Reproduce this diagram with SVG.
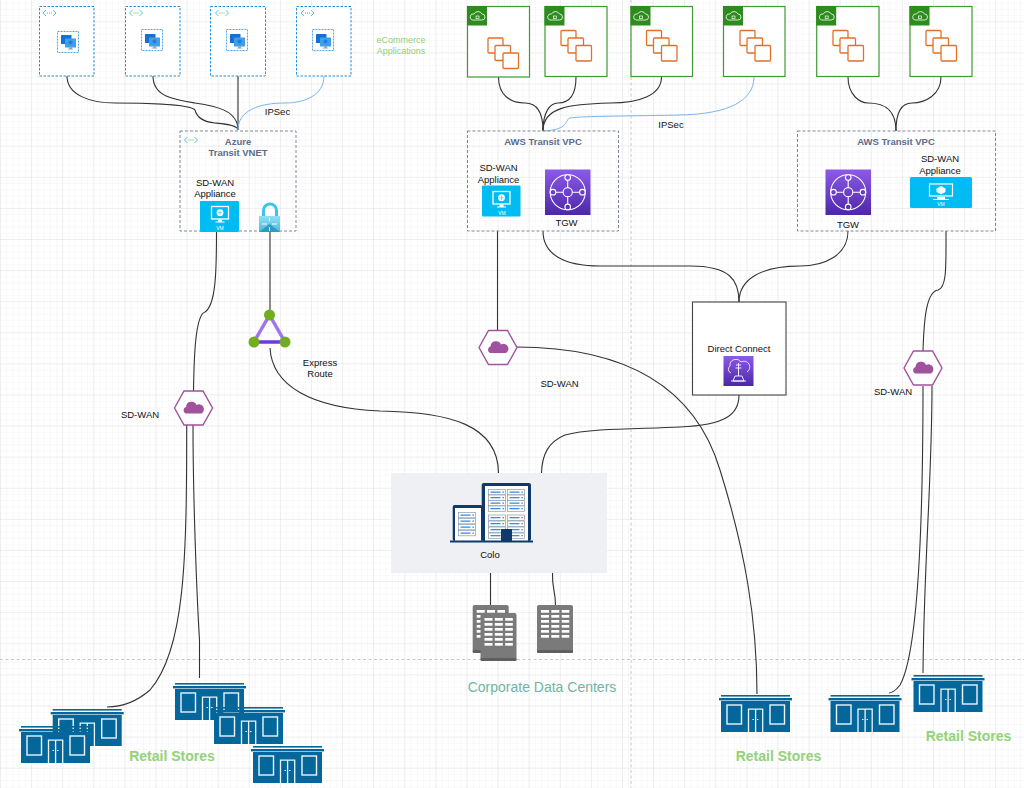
<svg xmlns="http://www.w3.org/2000/svg" xmlns:xlink="http://www.w3.org/1999/xlink" width="1024" height="788" viewBox="0 0 1024 788">
<style>
text{font-family:"Liberation Sans",Arial,sans-serif;font-size:9.5px;fill:#111;text-anchor:middle}
.t{font-weight:bold;font-size:9.5px;fill:#5a6b8c}
.r{font-weight:bold;font-size:14px;fill:#93d27b}
.c{fill:none;stroke:#333;stroke-width:1.1}
.g{fill:none;stroke:#666;stroke-width:1.5}
.b{fill:none;stroke:#7db4ee;stroke-width:1}
.vnet{fill:#fff;stroke:#2a8fdc;stroke-width:1;stroke-dasharray:2.5 1.5}
.inner{fill:none;stroke:#2a8fdc;stroke-width:.8;stroke-dasharray:2 1}
.transit{fill:none;stroke:#7d8699;stroke-width:1;stroke-dasharray:3 2}
.acct{fill:#fff;stroke:#3f9c35;stroke-width:1.2}
.o{fill:#fff;stroke:#e0702a;stroke-width:1.3}
.hex{fill:#fff;stroke:#a0529f;stroke-width:1.4}
.cl{fill:#a0529f}
</style>
<defs>
<pattern id="minor" width="6.22" height="6.22" patternUnits="userSpaceOnUse" y="2.64">
<path d="M0 0H6.22M0 0V6.22" stroke="#f3f3f3" stroke-width="1" fill="none"/>
</pattern>
<pattern id="major" width="31.1" height="31.1" patternUnits="userSpaceOnUse" y="21.3">
<path d="M0 0H31.1M0 0V31.1" stroke="#e4e4e4" stroke-width="1" fill="none"/>
</pattern>
<linearGradient id="pg" x1="0" y1="0" x2="0" y2="1"><stop offset="0" stop-color="#8c5ae8"/><stop offset="1" stop-color="#4d27a8"/></linearGradient>
<linearGradient id="lk" x1="0" y1="0" x2="0" y2="1"><stop offset="0" stop-color="#8fe0f5"/><stop offset="1" stop-color="#4db8dc"/></linearGradient>
<g id="store">
<rect x="2" y="0" width="69" height="1.6" fill="#04679c"/>
<rect x="0" y="3" width="73" height="2.4" fill="#04679c"/>
<rect x="2" y="6" width="69" height="31" fill="#04679c"/>
<g fill="none" stroke="#eef4f8" stroke-width="1.4">
<rect x="8" y="10" width="14.500" height="19"/>
<rect x="51" y="10" width="14.500" height="19"/>
<path d="M29.500 37V14.200H43.700V37M36.600 14.200V37" stroke-width="1.300"/>
</g>
<rect x="33.500" y="24" width="1.500" height="1" fill="#eef4f8"/><rect x="38" y="24" width="1.500" height="1" fill="#eef4f8"/>
</g>
<g id="ec2">
<rect class="o" x="0" y="0" width="15" height="15" rx="1"/>
<rect class="o" x="7" y="7.500" width="15.500" height="15" rx="1"/>
<rect class="o" x="15" y="15" width="15.500" height="15.500" rx="1"/>
</g>
<g id="acctH">
<rect x="-.5" y="-.5" width="20" height="19.500" fill="#2e8b1e"/>
<path d="M5 13.500H14.500A3 3 0 0 0 14.500 7.500A4.500 4.500 0 0 0 6.500 7.500A3 3 0 0 0 5 13.500Z" fill="none" stroke="#fff" stroke-width=".8"/>
<rect x="8.500" y="9.500" width="3" height="2.500" fill="none" stroke="#fff" stroke-width=".7"/>
</g>
<g id="vn">
<path d="M3 0L0 3L3 6M10 0L13 3L10 6" fill="none" stroke="#50c7f0" stroke-width="1"/>
<path d="M4 3H9" stroke="#7fba00" stroke-width="1" stroke-dasharray="1 1"/>
</g>
<g id="azvm">
<rect x="0" y="0" width="10.500" height="9" rx=".6" fill="#1470d4"/>
<rect x="4" y="3.500" width="11" height="9" rx=".6" fill="#3f9fe8"/>
<circle cx="9.500" cy="7.500" r="2" fill="#1f7fdc"/>
<path d="M8.300 12.500H10.800V14H8.300ZM6.500 14.200H12.500" fill="#9aa3ad" stroke="#9aa3ad" stroke-width=".6"/>
</g>
<g id="mon">
<rect x="0" y="0" width="17" height="12.500" fill="none" stroke="#fff" stroke-width="1.300"/>
<path d="M6.500 13H10.500V15H13V16H4V15H6.500Z" fill="#fff"/>
<circle cx="8.500" cy="6.200" r="3.400" fill="#fff"/>
<path d="M8.500 4V8.500M6.400 6.200H10.600" stroke="#00bcf2" stroke-width=".5"/>
</g>
<g id="tgw">
<rect width="45.500" height="45.500" fill="url(#pg)"/>
<g fill="none" stroke="#fff" stroke-width="1.100">
<circle cx="22.700" cy="22.700" r="17.500"/>
<circle cx="22.700" cy="22.700" r="4.600"/>
<path d="M22.700 10V18M22.700 27.300V35.500M10 22.700H18M27.300 22.700H35.500"/>
<circle cx="22.700" cy="8" r="2.800" fill="#7a4ad8"/><circle cx="22.700" cy="37.400" r="2.800" fill="#5a30b8"/>
<circle cx="8" cy="22.700" r="2.800" fill="#6a3dc8"/><circle cx="37.400" cy="22.700" r="2.800" fill="#6a3dc8"/>
</g>
</g>
<g id="hx">
<path class="hex" d="M-19 0L-9.500 -17H9.500L19 0L9.500 17H-9.500Z"/>
<path class="cl" d="M-8 5.500A3.500 3.500 0 0 1 -7.500 -1A5.500 5.500 0 0 1 3 -3A4.500 4.500 0 0 1 8 5.500Z"/>
</g>
<g id="srv">
<rect width="36" height="48" rx="2" fill="#7a7a7a"/>
<rect y="45" width="36" height="3" rx="1" fill="#5f5f5f"/>
<g fill="#fff">
<rect x="4" y="5" width="8" height="2.700"/><rect x="14.300" y="5" width="8" height="2.700"/><rect x="24.700" y="5" width="7.600" height="2.700"/>
<rect x="4" y="10" width="8" height="2.700"/><rect x="14.300" y="10" width="8" height="2.700"/><rect x="24.700" y="10" width="7.600" height="2.700"/>
<rect x="4" y="15" width="8" height="2.700"/><rect x="14.300" y="15" width="8" height="2.700"/><rect x="24.700" y="15" width="7.600" height="2.700"/>
<rect x="4" y="20" width="8" height="2.700"/><rect x="14.300" y="20" width="8" height="2.700"/><rect x="24.700" y="20" width="7.600" height="2.700"/>
<rect x="4" y="25" width="8" height="2.700"/><rect x="14.300" y="25" width="8" height="2.700"/><rect x="24.700" y="25" width="7.600" height="2.700"/>
<rect x="4" y="30" width="8" height="2.700"/><rect x="14.300" y="30" width="8" height="2.700"/><rect x="24.700" y="30" width="7.600" height="2.700"/>
</g>
</g>
<g id="unit">
<rect width="17" height="5.300" fill="#fff" stroke="#8a98a8" stroke-width=".7"/>
<rect x="2" y="2" width="10" height="1.300" fill="#3a8ee6"/>
<rect x="14" y="2" width="1.300" height="1.300" fill="#3a6ea6"/>
</g>
</defs>

<rect width="1024" height="788" fill="#fff"/>
<rect width="1024" height="788" fill="url(#minor)"/>
<rect width="1024" height="788" fill="url(#major)"/>
<path d="M631 0V788M0 659.500H1024" stroke="#c8c8c8" stroke-width="1" stroke-dasharray="3 2.500" fill="none"/>

<g id="connectors">
<path class="c" d="M67 76C67 95 90 103 115 103C140 103 190 104 195 110C197 118 205 122 215 123C225 124 238 125 238 130"/>
<path class="c" d="M153 76C153 97 175 100 195 103C215 106 238 110 238 130"/>
<path class="g" d="M238 76V130"/>
<path class="b" d="M324 76C324 95 305 103 285 103C260 103 238 110 238 130"/>
<path class="c" d="M498.500 77C498.500 95 510 103 525 103C535 103 543 110 543 131"/>
<path class="c" d="M576 77C576 95 570 103 558 103C550 103 543 112 543 131"/>
<path class="c" d="M661.500 77C661.500 95 640 103 610 103C570 104 543 107 543 131"/>
<path class="b" d="M754 77C754 100 730 114 680 115C640 116 580 116 570 118C565 119 570 130 543 131"/>
<path class="c" d="M848 77C848 95 860 103 868 103C885 103 896 110 896 131"/>
<path class="c" d="M941 77C941 95 925 103 912 103C903 103 896 110 896 131"/>
<path class="c" d="M216.500 232C216.500 270 216 305 205 312C195 315 194 360 193.500 391"/>
<path class="c" d="M186.700 425C186.700 560 185 650 150 690C135 703 120 707 107 707"/>
<path class="c" d="M193 425C193 500 197 600 199.500 640V678"/>
<path class="g" d="M270 232V314"/>
<path class="c" d="M270 348C272 385 310 408 380 411C450 412 498 425 498.500 473"/>
<path class="c" d="M543 231C543 255 565 266 600 266H690C730 266 739 280 739 302"/>
<path class="c" d="M848 231C848 255 825 266 800 266C760 266 739 280 739 302"/>
<path class="c" d="M497.500 231V331"/>
<path class="c" d="M516 347C600 347 690 370 720 470C745 550 757 620 757 694"/>
<path class="c" d="M946 231C946 265 947 288 938 290C926 292 924 320 923 351"/>
<path class="c" d="M923 386C923 500 920 650 900 685C895 692 890 693 889 693"/>
<path class="c" d="M932 386C932 480 924 560 923 673"/>
<path class="c" d="M739 395C739 415 725 425 680 427C640 429 590 428 565 435C548 442 542 455 541.500 473"/>
<path class="c" d="M490.500 573V605"/>
<path class="c" d="M552.500 573C552 590 555.500 590 555.500 605"/>
</g>

<g id="vnet1"><rect class="vnet" x="39.500" y="6.500" width="54.500" height="69.500"/><use href="#vn" x="43" y="10"/><rect class="inner" x="57.500" y="31.500" width="21" height="21"/><use href="#azvm" x="61" y="35"/></g>
<g id="vnet2"><rect class="vnet" x="125.500" y="6.500" width="54.500" height="69.500"/><use href="#vn" x="129.500" y="10"/><rect class="inner" x="141.500" y="29.500" width="21" height="21"/><use href="#azvm" x="145" y="34"/></g>
<g id="vnet3"><rect class="vnet" x="210.500" y="6.500" width="55" height="69.500"/><use href="#vn" x="215.500" y="10"/><rect class="inner" x="226.500" y="29.500" width="21" height="21"/><use href="#azvm" x="230" y="34"/></g>
<g id="vnet4"><rect class="vnet" x="296.500" y="6.500" width="54.500" height="69.500"/><use href="#vn" x="301" y="10"/><rect class="inner" x="312.500" y="29.500" width="21" height="21"/><use href="#azvm" x="316" y="34"/></g>

<g id="azure-transit">
<rect class="transit" x="180" y="131" width="116" height="100"/>
<use href="#vn" x="184.500" y="137"/>
<text class="t" x="238" y="145">Azure</text>
<text class="t" x="238" y="155.500">Transit VNET</text>
<text x="215" y="186">SD-WAN</text>
<text x="215" y="197">Appliance</text>
<rect x="200" y="201" width="39" height="31" rx="1" fill="#00bcf2"/>
<use href="#mon" x="211.500" y="206.500"/>
<text x="220" y="230" style="font-size:5px;fill:#fff">VM</text>
</g>
<g id="azure-gateway">
<path d="M263.500 217V210.500A6.500 6.500 0 0 1 276.500 210.500V217" fill="none" stroke="#3cc4ee" stroke-width="3"/>
<rect x="259" y="216" width="21" height="16" fill="url(#lk)"/>
<path d="M259 232L269.500 224L280 232Z" fill="#2a9cc4"/>
<path d="M262 224H267M272 224H277M269.500 218V221M269.500 227V231" stroke="#fff" stroke-width="1"/>
</g>

<g id="express-route">
<path d="M269.500 315L254 342" stroke="#a074ea" stroke-width="3.500"/>
<path d="M269.500 315L285 342" stroke="#a074ea" stroke-width="3.500"/>
<path d="M254 342H285" stroke="#6b3bd8" stroke-width="3.500"/>
<circle cx="269.500" cy="315" r="5.500" fill="#72ad1e"/>
<circle cx="254" cy="342" r="5.500" fill="#72ad1e"/>
<circle cx="285" cy="342" r="5.500" fill="#72ad1e"/>
<text x="320" y="366">Express</text>
<text x="320" y="377">Route</text>
</g>

<g id="acct1"><rect class="acct" x="467.500" y="6.500" width="62" height="70.500"/><use href="#acctH" x="467.500" y="6.500"/><use href="#ec2" x="488" y="38"/></g>
<g id="acct2"><rect class="acct" x="545" y="6.500" width="62" height="70"/><use href="#acctH" x="545" y="6.500"/><use href="#ec2" x="561" y="30.500"/></g>
<g id="acct3"><rect class="acct" x="631" y="6.500" width="61.500" height="70"/><use href="#acctH" x="631" y="6.500"/><use href="#ec2" x="646.500" y="30.500"/></g>
<g id="acct4"><rect class="acct" x="723.500" y="6.500" width="61.500" height="70"/><use href="#acctH" x="723.500" y="6.500"/><use href="#ec2" x="740" y="30.500"/></g>
<g id="acct5"><rect class="acct" x="816.700" y="6.500" width="62.300" height="70"/><use href="#acctH" x="816.700" y="6.500"/><use href="#ec2" x="833" y="30.500"/></g>
<g id="acct6"><rect class="acct" x="910" y="6.500" width="62" height="70"/><use href="#acctH" x="910" y="6.500"/><use href="#ec2" x="926" y="30.500"/></g>

<g id="aws-transit-1">
<rect class="transit" x="467.500" y="131" width="151" height="100"/>
<text class="t" x="543" y="145">AWS Transit VPC</text>
<text x="498.500" y="170.500">SD-WAN</text>
<text x="498.500" y="182.500">Appliance</text>
<rect x="482" y="185.500" width="38.500" height="31" rx="1" fill="#00bcf2"/>
<use href="#mon" x="493" y="191.500"/>
<text x="502" y="214.500" style="font-size:5px;fill:#fff">VM</text>
<use href="#tgw" x="545" y="169.500"/>
<text x="566.500" y="226">TGW</text>
</g>
<g id="aws-transit-2">
<rect class="transit" x="797.500" y="131" width="198" height="100"/>
<text class="t" x="896" y="145">AWS Transit VPC</text>
<text x="940" y="162">SD-WAN</text>
<text x="940" y="173.500">Appliance</text>
<rect x="910" y="177" width="62" height="31" rx="1.500" fill="#00bcf2"/>
<rect x="929.500" y="184" width="23" height="12" fill="none" stroke="#fff" stroke-width="1.200"/>
<path d="M937 197H945V199H949V200H933V199H937Z" fill="#fff"/>
<path d="M941 186L945.500 188.500V192L941 194.500L936.500 192V188.500Z" fill="#fff"/>
<text x="941" y="206" style="font-size:5px;fill:#fff">VM</text>
<use href="#tgw" x="825.500" y="169.500"/>
<text x="848" y="228">TGW</text>
</g>

<g id="sdwan-1"><use href="#hx" x="193.500" y="408"/></g>
<g id="sdwan-2"><use href="#hx" x="498" y="347.500"/></g>
<g id="sdwan-3"><use href="#hx" x="923" y="368"/></g>

<g id="direct-connect">
<rect x="692.500" y="302" width="93.500" height="93" fill="#fff" stroke="#444" stroke-width="1.100"/>
<text x="739" y="352">Direct Connect</text>
<rect x="723.500" y="356" width="30" height="30" fill="url(#pg)"/>
<path d="M731 373A4 4 0 0 1 730 366A6 6 0 0 1 741 362A5 5 0 0 1 747 372" fill="none" stroke="#fff" stroke-width=".8"/>
<path d="M736 365H741M738.500 363V376M735.500 368H741.500M735 376L733 381H744L742 376ZM731 381H746" fill="none" stroke="#fff" stroke-width=".9"/>
</g>

<g id="colo">
<rect x="391" y="473" width="216" height="100" fill="#eff0f3"/>
<rect x="452.700" y="505" width="30" height="36" rx="2" fill="#0f3a6b"/>
<rect x="455" y="508" width="26" height="33" fill="#fff"/>
<rect x="481.700" y="483" width="49.300" height="58" rx="2" fill="#0f3a6b"/>
<rect x="485" y="486" width="43" height="55" fill="#fff"/>
<use href="#unit" x="458.500" y="512.500"/><use href="#unit" x="458.500" y="518.500"/><use href="#unit" x="458.500" y="524.500"/><use href="#unit" x="458.500" y="530.500"/>
<use href="#unit" x="488.500" y="489.500"/><use href="#unit" x="507.500" y="489.500"/>
<use href="#unit" x="488.500" y="495"/><use href="#unit" x="507.500" y="495"/>
<use href="#unit" x="488.500" y="500.500"/><use href="#unit" x="507.500" y="500.500"/>
<use href="#unit" x="488.500" y="506"/><use href="#unit" x="507.500" y="506"/>
<use href="#unit" x="488.500" y="515"/><use href="#unit" x="507.500" y="515"/>
<use href="#unit" x="488.500" y="521"/><use href="#unit" x="507.500" y="521"/>
<use href="#unit" x="488.500" y="527"/><use href="#unit" x="507.500" y="527"/>
<use href="#unit" x="488.500" y="533"/><use href="#unit" x="507.500" y="533"/>
<rect x="501" y="529" width="11" height="12" fill="#0f3a6b"/>
<rect x="450" y="540.500" width="83" height="2" fill="#0f3a6b"/>
<text x="490" y="557.500">Colo</text>
</g>

<g id="dc-1"><use href="#srv" x="472.700" y="605"/><use href="#srv" x="480.500" y="613"/></g>
<g id="dc-2"><use href="#srv" x="537" y="605"/></g>

<g id="stores-west">
<use href="#store" x="50.700" y="709"/>
<use href="#store" x="19" y="726"/>
<use href="#store" x="173" y="683"/>
<use href="#store" x="212" y="707"/>
<use href="#store" x="251" y="746"/>
</g>
<g id="store-mid"><use href="#store" x="719" y="695"/></g>
<g id="stores-east"><use href="#store" x="828.500" y="695"/><use href="#store" x="911.500" y="675"/></g>

<g id="labels">
<text x="401" y="43" style="fill:#8fd06f;font-size:9px">eCommerce</text>
<text x="401" y="54" style="fill:#8fd06f;font-size:9px">Applications</text>
<text x="277.500" y="114.500">IPSec</text>
<text x="671" y="127.500">IPSec</text>
<text x="140" y="417.500">SD-WAN</text>
<text x="559.500" y="386.500">SD-WAN</text>
<text x="893" y="394.500">SD-WAN</text>
<text x="542" y="691.500" style="font-size:14px;fill:#6fb5a5">Corporate Data Centers</text>
<text class="r" x="172" y="761">Retail Stores</text>
<text class="r" x="778.500" y="761">Retail Stores</text>
<text class="r" x="968.500" y="740.500">Retail Stores</text>
</g>
</svg>
